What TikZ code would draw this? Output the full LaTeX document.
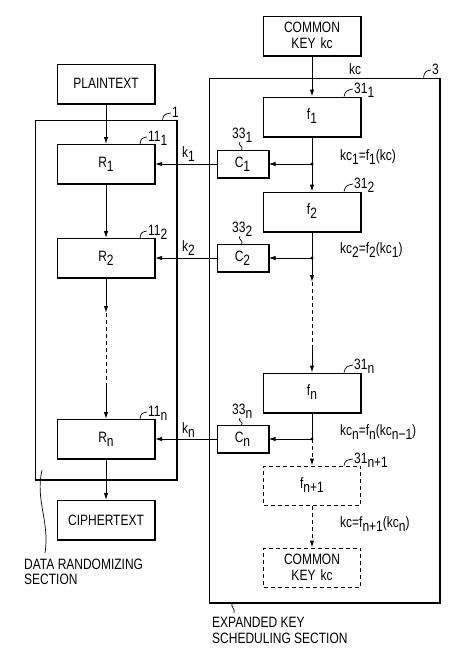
\documentclass[tikz,border=0pt]{standalone}
\usepackage{fontspec}
\setmainfont{Liberation Sans}[FakeStretch=0.8]
\usetikzlibrary{arrows.meta,calc}

\newcommand\lo[1]{\raisebox{-4pt}{#1}}

\begin{document}
\begin{tikzpicture}[x=1pt,y=-1pt,>={Latex[length=7pt,width=4.5pt]},
  font=\fontsize{15}{16}\selectfont,
  blk/.style={draw,line width=1pt,minimum width=97pt,minimum height=39pt,inner sep=0pt,align=center},
  cbox/.style={draw,line width=1pt,minimum width=51pt,minimum height=27pt,inner sep=0pt},
  ghost/.style={blk,dash pattern=on 4pt off 3pt},
  sect/.style={draw,line width=1pt,inner sep=0pt},
  tag/.style={anchor=base west,inner sep=0pt},
  lead/.style={line width=0.7pt},
  flow/.style={line width=1pt},
  gap/.style={flow,dash pattern=on 4pt off 3pt}]

\useasboundingbox (0,0) rectangle (474,672);

% The two sections
\node [sect,minimum width=141pt,minimum height=359pt] (sec1) at (105.5,299.5) {};
\node [sect,minimum width=230pt,minimum height=524pt] (sec3) at (324,340) {};

% Data randomizing column
\node [blk] (pt) at (106,83.5) {PLAINTEXT};
\node [blk] (R1) at (106,164) {R\lo{1}};
\node [blk] (R2) at (106,258) {R\lo{2}};
\node [blk] (Rn) at (106,439) {R\lo{n}};
\node [blk] (ct) at (106,520) {CIPHERTEXT};

% Key scheduling column
\node [blk] (ckey) at (312,35.5) {COMMON\\KEY\hspace{5pt}kc};
\node [blk] (f1) at (312,116.5) {f\lo{1}};
\node [blk] (f2) at (312,211.5) {f\lo{2}};
\node [blk] (fn) at (312,392.5) {f\lo{n}};
\node [ghost] (fn1) at (312,485.5) {f\lo{n+1}};
\node [ghost] (ckey2) at (312,567.5) {COMMON\\KEY\hspace{5pt}kc};
\node [cbox] (C1) at (242.5,164) {C\lo{1}};
\node [cbox] (C2) at (242.5,258) {C\lo{2}};
\node [cbox] (Cn) at (242.5,439) {C\lo{n}};

% Heavier right and bottom edges
\foreach \b in {sec1,sec3,pt,R1,R2,Rn,ct,ckey,f1,f2,fn,C1,C2,Cn} {
  \draw [line width=2pt] (\b.north east) -- (\b.south east) -- (\b.south west);
}

% Junctions and dotted-chain ends
\coordinate (j1) at (312,164);
\coordinate (j2) at (312,258);
\coordinate (jn) at (312,439);
\coordinate (e1) at (312,282);
\coordinate (e2) at (312,345);
\coordinate (d1) at (106,313);
\coordinate (d2) at (106,383);

% Left flow
\draw [flow,->] (pt) -- (R1);
\draw [flow,->] (R1) -- (R2);
\draw [flow,->] (R2) -- (d1);
\draw [gap] (d1) -- (d2);
\draw [flow,->] (d2) -- (Rn);
\draw [flow,->] (Rn) -- (ct);

% Right flow
\draw [flow,->] (ckey) -- (f1);
\draw [flow] (f1) -- (j1);
\draw [flow,->] (j1) -- (f2);
\draw [flow] (f2) -- (j2);
\draw [flow,->] (j2) -- (e1);
\draw [gap] (e1) -- (e2);
\draw [flow,->] (e2) -- (fn);
\draw [flow] (fn) -- (jn);
\draw [gap,->] (jn) -- (fn1);
\draw [gap,->] (fn1) -- (ckey2);

% Sub keys
\foreach \i in {1,2,n} {
  \draw [flow,->] (j\i) -- (C\i);
  \draw [flow,->] (C\i) -- (R\i);
  \fill (j\i) circle (1.6);
}

% Labels
\node [tag] (tkc) at (349,74) {kc};
\node [tag] (t3) at (432,74) {3};
\node [tag] (t1) at (172,117) {1};
\node [tag] (t311) at (354,93) {31\lo{1}};
\node [tag] (t312) at (354,188) {31\lo{2}};
\node [tag] (t31n) at (354,369) {31\lo{n}};
\node [tag] (t31m) at (354,463) {31\lo{n+1}};
\node [tag] (t331) at (232,138) {33\lo{1}};
\node [tag] (t332) at (232,232) {33\lo{2}};
\node [tag] (t33n) at (232,414) {33\lo{n}};
\node [tag] (t111) at (148,141) {11\lo{1}};
\node [tag] (t112) at (148,235) {11\lo{2}};
\node [tag] (t11n) at (148,416) {11\lo{n}};
\node [tag] (tk1) at (182,157) {k\lo{1}};
\node [tag] (tk2) at (182,251) {k\lo{2}};
\node [tag] (tkn) at (182,433) {k\lo{n}};
\node [tag] (tkc1) at (340,160) {kc\lo{1}=f\lo{1}(kc)};
\node [tag] (tkc2) at (340,253) {kc\lo{2}=f\lo{2}(kc\lo{1})};
\node [tag] (tkcn) at (340,435) {kc\lo{n}=f\lo{n}(kc\lo{n−1})};
\node [tag] (tkcm) at (340,527) {kc=f\lo{n+1}(kc\lo{n})};
\node [anchor=north west,inner sep=0pt,align=left,font=\fontsize{15}{15}\selectfont] (tdr) at (24,559) {DATA RANDOMIZING\\SECTION};
\node [anchor=north west,inner sep=0pt,align=left] (tek) at (212,617) {EXPANDED KEY\\SCHEDULING SECTION};

% Leader lines
\draw [lead] ($(sec3.north east)+(-16,0)$) .. controls +(1,-6) and +(-5,1) .. ($(t3.base west)+(-1,-4)$);
\draw [lead] ($(sec1.north east)+(-14,0)$) .. controls +(1,-6) and +(-5,1) .. ($(t1.base west)+(-1,-4)$);
\foreach \i/\b in {311/f1,312/f2,31n/fn,31m/fn1} {
  \draw [lead] ($(\b.north east)+(-17,0)$) .. controls +(1,-6) and +(-5,1) .. ($(t\i.base west)+(-1,-4)$);
}
\foreach \i/\b in {111/R1,112/R2,11n/Rn} {
  \draw [lead] ($(\b.north east)+(-15,0)$) .. controls +(1,-6) and +(-5,1) .. ($(t\i.base west)+(-1,-4)$);
}
\foreach \i/\b in {331/C1,332/C2,33n/Cn} {
  \draw [lead] ($(\b.north)+(-1,0)$) .. controls +(3,-3) and +(-3,3) .. ($(t\i.base west)+(8,4)$);
}
\coordinate (drs) at (42,470);
\draw [lead] (drs) .. controls (35,500) and (50,522) .. ($(tdr.north west)+(21,-6)$);
\draw [lead] ($(sec3.south west)+(24,0)$) .. controls +(-3,4) and +(2,-4) .. ($(tek.north west)+(22,-4)$);

\end{tikzpicture}
\end{document}
